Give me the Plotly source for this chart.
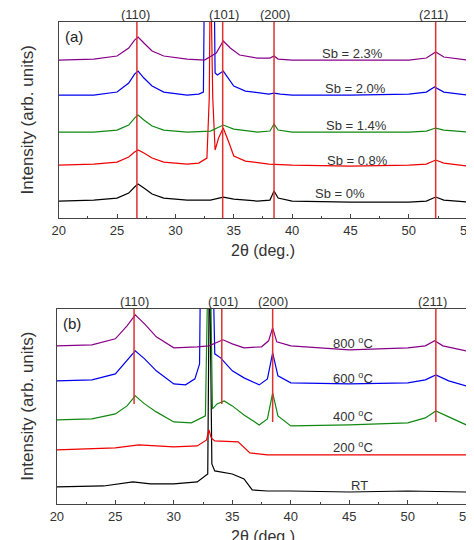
import plotly.graph_objects as go

# Panel (a)
a_black_x = [20,23,25,26,26.5,26.8,27.3,28,29,31,33,34.1,35,37,38.1,38.45,38.8,40,45,50,51.5,52.3,53,55]
a_black_y = [17,18,20,25,31,34,30,24,20,18,18,21,19,17,18,27,20,17,16,16,17,21,18,16]
a_red_x = [20,23,25,26,26.5,26.8,27.3,28,29,31,32,32.7,32.9,33.0,33.2,33.4,33.7,34.1,34.6,35,36,38,40,45,50,51.5,52.3,53,55]
a_red_y = [53,54,56,61,66,68,65,60,56,54,55,60,120,260,120,68,80,90,75,62,57,54,53,52,53,54,58,55,52]
a_green_x = [20,23,25,26,26.5,26.8,27.3,28,29,31,33,34.1,35,37,38.1,38.45,38.8,40,45,50,51.5,52.3,53,55]
a_green_y = [86,86,88,93,100,103,98,92,88,86,87,93,89,86,87,94,88,86,86,86,87,90,88,86]
a_blue_x = [20,23,25,26,26.5,26.8,27.3,28,29,31,32,32.4,32.5,33.3,33.4,33.6,34.1,34.5,35,36,38,38.45,39,40,45,50,51.5,52.2,53,55]
a_blue_y = [123,123,126,135,144,147,140,132,126,123,124,126,260,260,145,143,147,140,132,127,124,125,124,123,123,124,126,131,126,123]
a_purple_x = [20,23,25,26,26.5,26.8,27.3,28,29,31,32.5,33.5,34.1,34.7,35.5,37,38.1,38.45,38.8,40,45,50,51.5,52.3,53,55]
a_purple_y = [158,159,162,170,178,181,175,167,162,159,158,165,177,170,163,160,160,162,159,158,158,158,160,166,161,158]
a_labels = ["Sb = 0%", "Sb = 0.8%", "Sb = 1.4%", "Sb = 2.0%", "Sb = 2.3%"]
a_label_x = [44.1, 45.6, 45.5, 45.4, 45.2]
a_label_y = [25, 58, 93, 130, 165]

# Panel (b)
b_rt_x = [20,24,26.5,28,30,32,32.9,33.05,33.25,33.5,35,36,36.7,38,40,45,50,55]
b_rt_y = [17,18,22,20,20,22,30,260,40,33,30,25,14,13,13,12,13,12]
b_200_x = [20,25,27,30,32,32.8,33.0,33.2,33.5,35.5,36.5,38,45,55]
b_200_y = [54,56,59,57,58,64,74,66,63,62,51,49,49,49]
b_400_x = [20,23,25,26,26.7,27.5,28.5,30,31.5,32.7,32.95,33.1,33.3,33.7,34.3,35,36,37.3,38.0,38.45,38.9,40,45,50,51.5,52.4,53.5,55]
b_400_y = [84,85,90,98,108,100,92,82,81,88,260,260,95,100,103,98,89,79,85,111,88,78,79,81,86,93,87,79]
b_600_x = [20,23,25,26,26.7,27.5,28.5,30,31,31.8,32.2,32.3,33.3,33.5,34,35,36,37.3,38.0,38.45,38.9,40,45,50,51.5,52.4,53.5,55]
b_600_y = [123,124,130,143,153,145,133,120,119,125,140,260,260,150,146,133,126,119,125,151,128,121,120,121,124,129,123,118]
b_800_x = [20,23,25,26,26.7,27.5,28.5,30,32,33,34.2,35,36,37.5,38.1,38.45,38.8,40,45,50,51.5,52.3,53,55]
b_800_y = [158,159,165,178,189,180,167,156,157,158,164,160,156,157,163,176,162,158,154,156,158,163,158,153]
b_labels = ["RT", "200 <sup>o</sup>C", "400 <sup>o</sup>C", "600 <sup>o</sup>C", "800 <sup>o</sup>C"]
b_label_x = [45.9, 45.3, 45.3, 45.3, 45.3]
b_label_y = [18, 57, 88, 126, 161]

hkl = ["(110)", "(101)", "(200)", "(211)"]
hkl_label_x = [26.6, 34.2, 38.5, 52.1]
a_ref_x = [26.7, 34.05, 38.45, 52.3]
b_ref_x = [26.6, 34.1, 38.45, 52.4]
b_ref_bottom = [100, 100, 82, 82]

colors = ["black", "#ee0000", "#118811", "#0000ee", "#880088"]
fig = go.Figure()
for (xs, ys), c in zip([(a_black_x, a_black_y), (a_red_x, a_red_y), (a_green_x, a_green_y),
                        (a_blue_x, a_blue_y), (a_purple_x, a_purple_y)], colors):
    fig.add_trace(go.Scatter(x=xs, y=ys, mode="lines", line=dict(color=c, width=1.2),
                             xaxis="x", yaxis="y", showlegend=False))
for (xs, ys), c in zip([(b_rt_x, b_rt_y), (b_200_x, b_200_y), (b_400_x, b_400_y),
                        (b_600_x, b_600_y), (b_800_x, b_800_y)], colors):
    fig.add_trace(go.Scatter(x=xs, y=ys, mode="lines", line=dict(color=c, width=1.2),
                             xaxis="x2", yaxis="y2", showlegend=False))

shapes = []
for xv in a_ref_x:
    shapes.append(dict(type="line", xref="x", yref="y", x0=xv, x1=xv, y0=0, y1=196,
                       line=dict(color="#e03030", width=1.5)))
for xv, yb in zip(b_ref_x, b_ref_bottom):
    shapes.append(dict(type="line", xref="x2", yref="y2", x0=xv, x1=xv, y0=yb, y1=195,
                       line=dict(color="#e03030", width=1.5)))

ann = []
f = dict(family="Arial", size=13, color="#333")
for t, xv, yv in zip(a_labels, a_label_x, a_label_y):
    ann.append(dict(text=t, x=xv, y=yv, xref="x", yref="y", showarrow=False, font=f))
for t, xv, yv in zip(b_labels, b_label_x, b_label_y):
    ann.append(dict(text=t, x=xv, y=yv, xref="x2", yref="y2", showarrow=False, font=f))
for t, xv in zip(hkl, hkl_label_x):
    ann.append(dict(text=t, x=xv, y=1, xref="x", yref="y domain", yanchor="bottom", yshift=-2,
                    showarrow=False, font=f))
    ann.append(dict(text=t, x=xv, y=1, xref="x2", yref="y2 domain", yanchor="bottom", yshift=-2,
                    showarrow=False, font=f))
ann.append(dict(text="(a)", x=0.01, y=0.98, xref="x domain", yref="y domain", xanchor="left",
                yanchor="top", showarrow=False, font=dict(family="Arial", size=15, color="#222")))
ann.append(dict(text="(b)", x=0.01, y=0.98, xref="x2 domain", yref="y2 domain", xanchor="left",
                yanchor="top", showarrow=False, font=dict(family="Arial", size=15, color="#222")))
for yc in [(0.611 + 0.974) / 2, (0.0815 + 0.443) / 2]:
    ann.append(dict(text="Intensity (arb. units)", x=0.027, y=yc, xref="paper", yref="paper",
                    xanchor="center", yanchor="middle",
                    textangle=-90, showarrow=False, font=dict(family="Arial", size=17, color="#333")))
ann.append(dict(text="2θ (deg.)", x=0.54, y=1 - 243 / 540, xref="paper", yref="paper",
                xanchor="center", yanchor="middle",
                showarrow=False, font=dict(family="Arial", size=16, color="#333")))
ann.append(dict(text="2θ (deg.)", x=0.54, y=1 - 528 / 540, xref="paper", yref="paper",
                xanchor="center", yanchor="middle",
                showarrow=False, font=dict(family="Arial", size=16, color="#333")))

xax = dict(range=[20, 55], dtick=5, ticks="inside", ticklen=4, mirror=True, showline=True,
           linecolor="#444", linewidth=1, showgrid=False, zeroline=False,
           tickfont=dict(family="Arial", size=13, color="#333"),
           minor=dict(dtick=2.5, ticks="inside", ticklen=2))
yax = dict(showticklabels=False, ticks="", mirror=True, showline=True, linecolor="#444",
           linewidth=1, showgrid=False, zeroline=False)
fig.update_layout(
    width=474, height=540, margin=dict(l=0, r=0, t=0, b=0),
    plot_bgcolor="white", paper_bgcolor="white",
    xaxis=dict(xax, domain=[0.095, 0.983], anchor="y"),
    yaxis=dict(yax, domain=[0.611, 0.974], range=[0, 196], anchor="x"),
    xaxis2=dict(xax, domain=[0.091, 0.981], anchor="y2"),
    yaxis2=dict(yax, domain=[0.0815, 0.443], range=[0, 195], anchor="x2"),
    shapes=shapes, annotations=ann,
)
fig.write_html("out.html")
